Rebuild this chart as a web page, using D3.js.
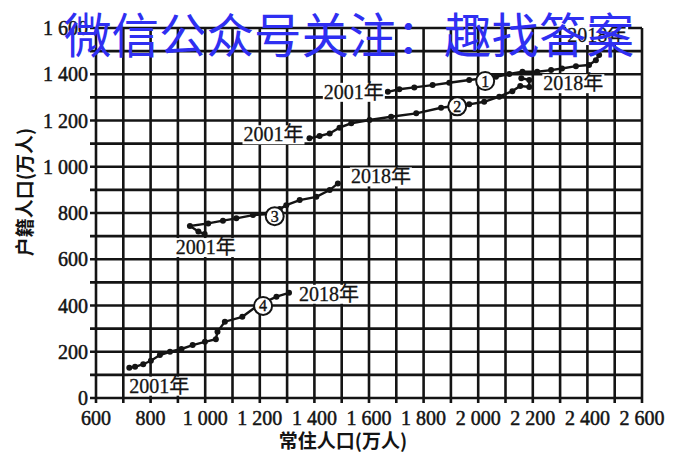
<!DOCTYPE html>
<html><head><meta charset="utf-8">
<script src="https://cdn.jsdelivr.net/npm/d3@7"></script>
<style>
html,body{margin:0;padding:0;background:#fff;}
svg{display:block;}
</style>
</head><body>
<svg id="chart" width="700" height="453"></svg>
<script>
// ---- data (常住人口 x, 户籍人口 y; 万人) ----
const xTickValues = [600, 800, 1000, 1200, 1400, 1600, 1800, 2000, 2200, 2400, 2600];
const yTickValues = [0, 200, 400, 600, 800, 1000, 1200, 1400, 1600];
const xTitle = "常住人口(万人)";
const yTitle = "户籍人口(万人)";
const watermark = "微信公众号关注：趣找答案";

const series1 = [[1669,1324],[1711,1335],[1766,1343],[1833,1353],[1894,1363],[1967,1375],[2020,1382],[2065,1389],[2114,1401],[2162,1411],[2216,1411],[2267,1418],[2307,1425],[2358,1435],[2406,1440],[2431,1461],[2443,1483]];
const series2 = [[1382,1123],[1419,1133],[1456,1144],[1492,1169],[1535,1188],[1602,1202],[1681,1216],[1773,1231],[1864,1255],[1967,1270],[2022,1281],[2077,1303],[2125,1327],[2154,1349],[2187,1345],[2187,1375],[2158,1383]];
const series3 = [[998,709],[975,720],[944,744],[1011,755],[1065,767],[1114,777],[1175,791],[1229,795],[1273,817],[1297,834],[1346,856],[1407,870],[1456,899],[1486,928]];
const series4 = [[722,131],[743,135],[773,146],[801,161],[834,186],[871,200],[913,212],[954,229],[999,243],[1039,254],[1045,287],[1072,330],[1136,351],[1190,398],[1261,438],[1307,455]];

// ---- layout ----
const svg = d3.select("#chart");
const x = d3.scaleLinear().domain([600, 2600]).range([96, 642]);
const y = d3.scaleLinear().domain([0, 1600]).range([398, 28]);
const fmt = v => d3.format(",")(v).replace(/,/g, " ");

const ink = "#141414";
const g = svg.append("g");

// grid
const gx = d3.range(600, 2601, 100);
const gy = d3.range(0, 1601, 100);
g.selectAll(".vg").data(gx).join("line")
  .attr("x1", d => x(d)).attr("x2", d => x(d))
  .attr("y1", y(1600)).attr("y2", y(0) + 5)
  .attr("stroke", ink).attr("stroke-width", 2.6);
g.selectAll(".hg").data(gy).join("line")
  .attr("x1", x(600) - 6).attr("x2", x(2600))
  .attr("y1", d => y(d)).attr("y2", d => y(d))
  .attr("stroke", ink).attr("stroke-width", 2.6);

// axes labels
const tickFont = "'Liberation Serif','Times New Roman',serif";
g.selectAll(".xt").data(xTickValues).join("text")
  .attr("x", d => x(d)).attr("y", 425)
  .attr("text-anchor", "middle")
  .attr("font-family", tickFont).attr("font-size", 20)
  .attr("stroke", ink).attr("stroke-width", 0.5)
  .attr("fill", ink).text(fmt);
g.selectAll(".yt").data(yTickValues).join("text")
  .attr("x", 88).attr("y", d => y(d) + 7)
  .attr("text-anchor", "end")
  .attr("font-family", tickFont).attr("font-size", 20)
  .attr("stroke", ink).attr("stroke-width", 0.5)
  .attr("fill", ink).text(fmt);

g.append("text").attr("x", 343).attr("y", 448)
  .attr("text-anchor", "middle")
  .attr("font-family", "'Noto Sans CJK SC',sans-serif").attr("font-size", 19)
  .attr("font-weight", 700).attr("fill", ink).text(xTitle);
g.append("text").attr("transform", "translate(32,192) rotate(-90)")
  .attr("text-anchor", "middle")
  .attr("font-family", "'Noto Sans CJK SC',sans-serif").attr("font-size", 19)
  .attr("font-weight", 700).attr("fill", ink).text(yTitle);

// series
const line = d3.line().x(d => x(d[0])).y(d => y(d[1]));
const allSeries = [series1, series2, series3, series4];
allSeries.forEach(s => {
  g.append("path").datum(s).attr("d", line)
    .attr("fill", "none").attr("stroke", ink).attr("stroke-width", 2.4);
  g.selectAll(null).data(s).join("circle")
    .attr("cx", d => x(d[0])).attr("cy", d => y(d[1])).attr("r", 3).attr("fill", ink);
});

// year labels (with white backgrounds)
const labelFont = "'Liberation Serif','Noto Sans CJK SC',serif";
const yearLabels = [
  {s: 0, i: 0, text: "2001年", dx: -4, dy: 0, anchor: "end"},
  {s: 0, i: series1.length - 1, text: "2018年", dx: -2, dy: -20, anchor: "middle"},
  {s: 1, i: 0, text: "2001年", dx: -6, dy: -4, anchor: "end"},
  {s: 1, i: series2.length - 1, text: "2018年", dx: 52, dy: 5, anchor: "middle"},
  {s: 2, i: 0, text: "2001年", dx: 1, dy: 13, anchor: "middle"},
  {s: 2, i: series3.length - 1, text: "2018年", dx: 43, dy: -7, anchor: "middle"},
  {s: 3, i: 0, text: "2001年", dx: 30, dy: 18, anchor: "middle"},
  {s: 3, i: series4.length - 1, text: "2018年", dx: 40, dy: 1, anchor: "middle"}
];
yearLabels.forEach(l => {
  const p = allSeries[l.s][l.i];
  const tx = x(p[0]) + l.dx, ty = y(p[1]) + l.dy;
  const t = g.append("text").attr("x", tx).attr("y", ty + 7)
    .attr("text-anchor", l.anchor)
    .attr("font-family", labelFont).attr("font-size", 20)
    .attr("stroke", ink).attr("stroke-width", 0.3)
    .attr("fill", ink).text(l.text);
  const b = t.node().getBBox();
  g.insert("rect", () => t.node())
    .attr("x", b.x - 1).attr("y", b.y + 2).attr("width", b.width + 2).attr("height", b.height - 3)
    .attr("fill", "#fff");
});

// circled series numbers
const markers = [
  {s: 0, i: 5, dx: 16, dy: 1},
  {s: 1, i: 9, dx: -12, dy: 2},
  {s: 2, i: 7, dx: 7, dy: 2},
  {s: 3, i: 13, dx: 6, dy: 0}
];
markers.forEach((m, k) => {
  const p = allSeries[m.s][m.i];
  const cx = x(p[0]) + m.dx, cy = y(p[1]) + m.dy;
  g.append("circle").attr("cx", cx).attr("cy", cy).attr("r", 9)
    .attr("fill", "#fff").attr("stroke", ink).attr("stroke-width", 2);
  g.append("text").attr("x", cx).attr("y", cy + 5.5).attr("text-anchor", "middle")
    .attr("font-family", tickFont).attr("font-size", 16).attr("fill", ink)
    .attr("stroke", ink).attr("stroke-width", 0.4)
    .text(String(k + 1));
});

// watermark
svg.append("text").attr("x", 64).attr("y", 53)
  .attr("font-family", "'Noto Sans CJK SC',sans-serif").attr("font-size", 47.5)
  .attr("fill", "#2f2ff2").text(watermark);
</script>
</body></html>
